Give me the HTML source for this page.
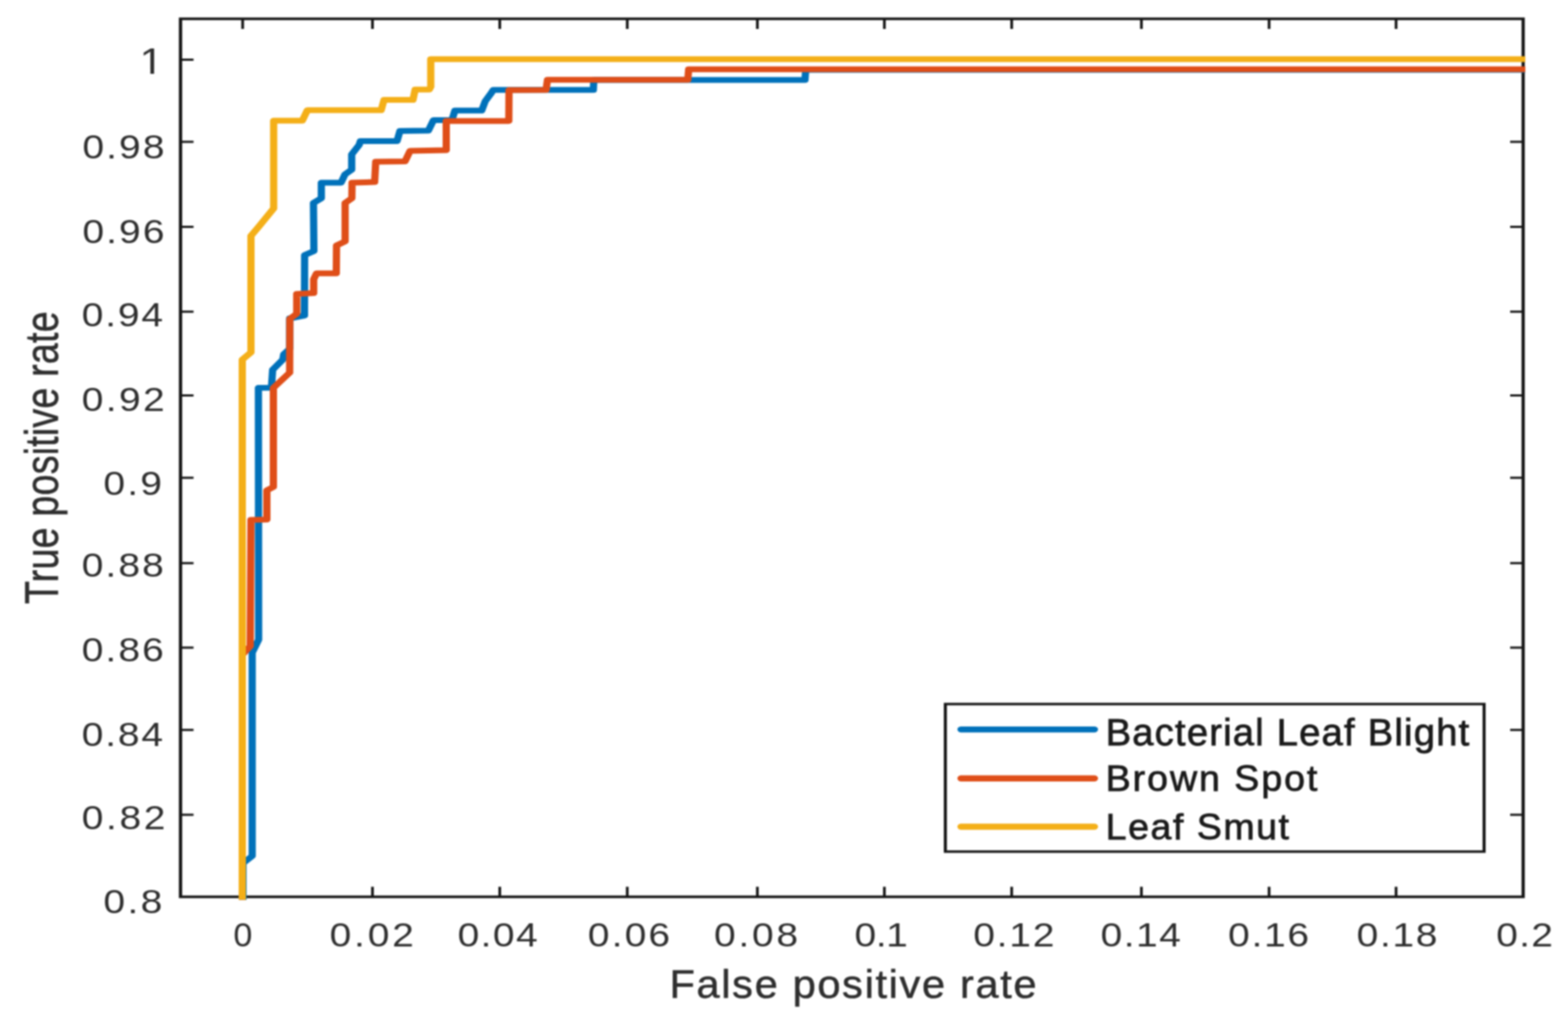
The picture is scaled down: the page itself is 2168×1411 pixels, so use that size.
<!DOCTYPE html>
<html><head><meta charset="utf-8"><title>ROC curves</title>
<style>html,body{margin:0;padding:0;background:#fff;}body{width:2168px;height:1411px;overflow:hidden;}svg{display:block;filter:blur(1px);}</style>
</head><body>
<svg width="2168" height="1411" viewBox="0 0 2168 1411">
<defs><clipPath id="ax"><rect x="249.6" y="22" width="1859.4" height="1221.4"/></clipPath></defs>
<rect width="2168" height="1411" fill="#fff"/>
<g transform="scale(1.25 1)">
<g stroke="#141414" fill="none" stroke-width="3.6">
<rect x="199.68" y="26" width="1485.12" height="1213.4"/>
<path stroke-width="3" d="M199.68 82.6h14.4M1684.8 82.6h-14.4M199.68 195.9h14.4M1684.8 195.9h-14.4M199.68 313.4h14.4M1684.8 313.4h-14.4M199.68 430.8h14.4M1684.8 430.8h-14.4M199.68 546.6h14.4M1684.8 546.6h-14.4M199.68 660.3h14.4M1684.8 660.3h-14.4M199.68 778.2h14.4M1684.8 778.2h-14.4M199.68 895.1h14.4M1684.8 895.1h-14.4M199.68 1008.8h14.4M1684.8 1008.8h-14.4M199.68 1125.9h14.4M1684.8 1125.9h-14.4M268.4 1239.4v-14M268.4 26v14M412 1239.4v-14M412 26v14M552.8 1239.4v-14M552.8 26v14M693.84 1239.4v-14M693.84 26v14M837.76 1239.4v-14M837.76 26v14M978.24 1239.4v-14M978.24 26v14M1119.04 1239.4v-14M1119.04 26v14M1262.56 1239.4v-14M1262.56 26v14M1403.76 1239.4v-14M1403.76 26v14M1544.24 1239.4v-14M1544.24 26v14"/>
</g></g>
<g clip-path="url(#ax)"><g transform="scale(1.25 1)" fill="none" stroke-width="8" stroke-linejoin="round" stroke-linecap="butt">
<polyline stroke="#0071BA" points="268.8,1260 268.8,1193 278.96,1183 278.96,902 286.08,884 285.84,536 300.24,535.7 301.6,511 312.8,497 313.84,489.6 320.4,482 320.4,440 336.8,436 336.96,352.5 347.2,347 346.72,280.5 355.44,274 355.44,252.6 377.28,252.4 381.6,241 389.04,234.5 389.04,213.3 397.2,200.4 398.64,194.9 439.2,194.9 442.4,181 473.84,180.5 479.52,166 499.92,166 503.2,152.8 532.8,152.8 536.8,139.7 543.52,128.4 545.6,124.3 656.32,124.3 656.8,110.5 890.4,110.5 891.2,96.5 1688,96.5"/>
<polyline stroke="#DF4E18" points="268,1260 268,905 276.8,893 277.6,718.5 295.2,718 295.2,677.6 302.4,673 302.4,536 320.4,515 320.56,440.6 328.24,433.6 328.24,406.3 346.96,405 346.96,386 350.08,377.8 372,377.8 372.24,339.3 381.76,333.6 381.76,280.5 389.2,274 389.44,252.4 414.4,251.5 415.6,223.5 448,223 453.6,208.5 493.6,207.5 493.6,167.2 562.8,167.2 563.04,124.6 604,124.3 605.6,110.2 760.8,110.2 761.76,95.7 1688,95.7"/>
<polyline stroke="#F4AF18" points="268,1260 268,497 277.6,487 277.6,326 286.4,313 302.72,288 302.72,166.8 334.4,166.8 340,152.3 421.6,152.3 424.8,138 456.8,138 459.2,123.8 474.8,123.8 476.48,120 476.48,81.7 1688,81.7"/>
</g></g>
<g transform="scale(1.25 1)">
<rect x="1045.68" y="973" width="595.92" height="203.9" fill="#fff" stroke="#141414" stroke-width="3.4"/>
<g stroke-width="8.4" stroke-linecap="round">
<path stroke="#0071BA" d="M1063.2 1008.1H1210.4"/>
<path stroke="#DF4E18" d="M1063.2 1075.7H1210.4"/>
<path stroke="#F4AF18" d="M1063.2 1142.5H1210.4"/>
</g></g>
<g font-family='"Liberation Sans", Arial, Helvetica, sans-serif'>
<clipPath id="c1" clipPathUnits="userSpaceOnUse"><rect x="-5" y="-50.141" width="60.169" height="44.895"/><rect x="12.609" y="-7.746" width="4.431" height="12.746"/></clipPath><text clip-path="url(#c1)" fill="#2e2e2e" transform="translate(192.993 102.3) scale(1.18 1)" font-size="50.141">1</text>
<text fill="#2e2e2e" transform="translate(113.897 218.8) scale(1.18 1)" font-size="45.621" textLength="96.138" lengthAdjust="spacing">0.98</text>
<text fill="#2e2e2e" transform="translate(113.897 336.3) scale(1.18 1)" font-size="45.621" textLength="96.16" lengthAdjust="spacing">0.96</text>
<text fill="#2e2e2e" transform="translate(112.897 451) scale(1.18 1)" font-size="45.621" textLength="95.322" lengthAdjust="spacing">0.94</text>
<text fill="#2e2e2e" transform="translate(112.897 567.9) scale(1.18 1)" font-size="45.621" textLength="97.297" lengthAdjust="spacing">0.92</text>
<text fill="#2e2e2e" transform="translate(142.897 683.7) scale(1.18 1)" font-size="45.621" textLength="68.689" lengthAdjust="spacing">0.9</text>
<text fill="#2e2e2e" transform="translate(112.897 797.4) scale(1.18 1)" font-size="45.621" textLength="96.307" lengthAdjust="spacing">0.88</text>
<text fill="#2e2e2e" transform="translate(112.897 914.2) scale(1.18 1)" font-size="45.621" textLength="96.329" lengthAdjust="spacing">0.86</text>
<text fill="#2e2e2e" transform="translate(112.897 1031.1) scale(1.18 1)" font-size="45.621" textLength="95.322" lengthAdjust="spacing">0.84</text>
<text fill="#2e2e2e" transform="translate(112.897 1146.3) scale(1.18 1)" font-size="45.621" textLength="98.144" lengthAdjust="spacing">0.82</text>
<text fill="#2e2e2e" transform="translate(142.897 1262.4) scale(1.18 1)" font-size="45.621" textLength="69.188" lengthAdjust="spacing">0.8</text>
<text fill="#2e2e2e" transform="translate(322.764 1308) scale(1.03 1)" font-size="45.621" textLength="23.564" lengthAdjust="spacing">0</text>
<text fill="#2e2e2e" transform="translate(455.697 1308) scale(1.18 1)" font-size="45.621" textLength="98.822" lengthAdjust="spacing">0.02</text>
<text fill="#2e2e2e" transform="translate(632.697 1308) scale(1.18 1)" font-size="45.621" textLength="93.797" lengthAdjust="spacing">0.04</text>
<text fill="#2e2e2e" transform="translate(812.697 1308) scale(1.18 1)" font-size="45.621" textLength="96.499" lengthAdjust="spacing">0.06</text>
<text fill="#2e2e2e" transform="translate(987.297 1308) scale(1.18 1)" font-size="45.621" textLength="98.51" lengthAdjust="spacing">0.08</text>
<text fill="#2e2e2e" transform="translate(1181.497 1308) scale(1.18 1)" font-size="45.621" textLength="62.484" lengthAdjust="spacing">0.1</text>
<text fill="#2e2e2e" transform="translate(1345.697 1308) scale(1.18 1)" font-size="45.621" textLength="95.093" lengthAdjust="spacing">0.12</text>
<text fill="#2e2e2e" transform="translate(1521.697 1308) scale(1.18 1)" font-size="45.621" textLength="94.136" lengthAdjust="spacing">0.14</text>
<text fill="#2e2e2e" transform="translate(1698.097 1308) scale(1.18 1)" font-size="45.621" textLength="94.804" lengthAdjust="spacing">0.16</text>
<text fill="#2e2e2e" transform="translate(1875.697 1308) scale(1.18 1)" font-size="45.621" textLength="94.782" lengthAdjust="spacing">0.18</text>
<text fill="#2e2e2e" transform="translate(2068.697 1308) scale(1.18 1)" font-size="45.621" textLength="66.619" lengthAdjust="spacing">0.2</text>
<text fill="#2e2e2e" stroke="#2e2e2e" stroke-width="0.7" transform="translate(925.688 1379) scale(1.04 1)" font-size="55.233" textLength="487.947" lengthAdjust="spacing">False positive rate</text>
<text fill="#1a1a1a" stroke="#1a1a1a" stroke-width="1.0" transform="translate(1528.665 1030.3) scale(1.03 1)" font-size="51.308" textLength="488.08" lengthAdjust="spacing">Bacterial Leaf Blight</text>
<text fill="#1a1a1a" stroke="#1a1a1a" stroke-width="1.0" transform="translate(1528.739 1093.3) scale(1.03 1)" font-size="50.436" textLength="284.313" lengthAdjust="spacing">Brown Spot</text>
<text fill="#1a1a1a" stroke="#1a1a1a" stroke-width="1.0" transform="translate(1528.739 1159.9) scale(1.03 1)" font-size="50.436" textLength="246.06" lengthAdjust="spacing">Leaf Smut</text>
<text fill="#2e2e2e" stroke="#2e2e2e" stroke-width="0.6" font-size="52" textLength="404.479" lengthAdjust="spacing" transform="translate(79.6 834.768) rotate(-90) scale(1 1.25)">True positive rate</text>
</g>
</svg>
</body></html>
